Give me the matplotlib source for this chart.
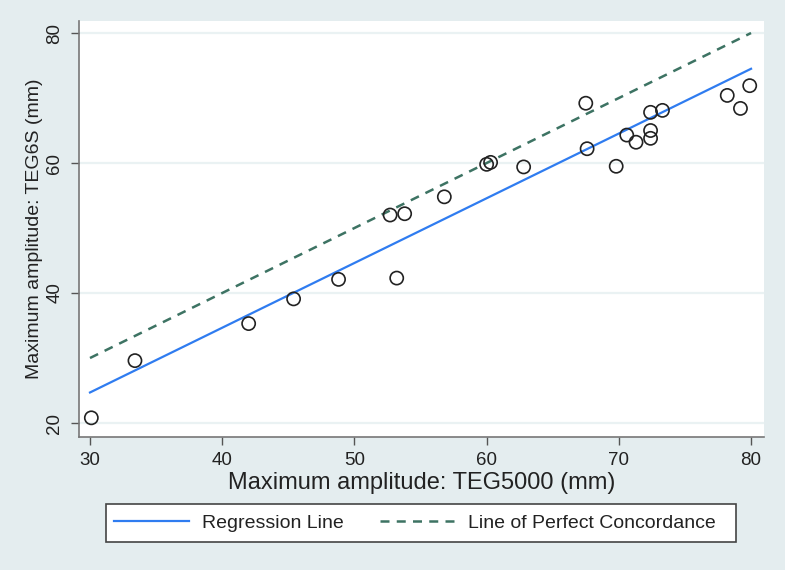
import matplotlib
matplotlib.use("Agg")
import matplotlib.pyplot as plt
from matplotlib.lines import Line2D
from matplotlib.patches import Rectangle
import numpy as np

# Data
teg5000 = [30.1, 33.4, 42.0, 45.4, 48.8, 53.2, 52.7, 53.8, 56.8, 60.0, 60.3,
           62.8, 67.5, 67.6, 69.8, 70.6, 71.3, 72.4, 72.4, 72.4, 73.3, 78.2,
           79.2, 79.9]
teg6s = [20.8, 29.6, 35.3, 39.1, 42.1, 42.3, 52.0, 52.2, 54.8, 59.8, 60.1,
         59.4, 69.2, 62.2, 59.5, 64.3, 63.2, 67.8, 65.0, 63.8, 68.1, 70.4,
         68.4, 71.9]
reg_x = [30, 80]
reg_y = [24.7, 74.5]
conc_x = [30, 80]
conc_y = [30, 80]
xticks = [30, 40, 50, 60, 70, 80]
yticks = [20, 40, 60, 80]

bg = '#e4edef'
grid_c = '#eaf2f3'
plt.rcParams['font.family'] = ['Liberation Sans', 'DejaVu Sans']

fig = plt.figure(figsize=(7.85, 5.70), dpi=100, facecolor=bg)
ax = fig.add_axes([78.5/785, 1 - 437/570, (764-78.5)/785, (437-21)/570])
ax.set_facecolor('white')

ax.set_xlim(29.13, 80.98)
ax.set_ylim(17.85, 81.85)

for y in yticks:
    ax.axhline(y, color=grid_c, lw=1.6, zorder=0)

dash = (3.6, 2.9)
ax.plot(reg_x, reg_y, color='#2f7cf0', lw=1.6, zorder=2)
ax.plot(conc_x, conc_y, color='#3d7363', lw=1.8, dashes=dash, zorder=2)
ax.scatter(teg5000, teg6s, s=90, facecolors='none', edgecolors='#222222',
           linewidths=1.2, zorder=3)

for s in ['top', 'right']:
    ax.spines[s].set_visible(False)
for s in ['left', 'bottom']:
    ax.spines[s].set_color('#777777')
    ax.spines[s].set_linewidth(1.2)

ax.set_xticks(xticks)
ax.set_yticks(yticks)
ax.tick_params(axis='both', colors='#555555', length=6, width=1.0,
               labelcolor='#222222', labelsize=13.5, pad=5)
for lab in ax.get_yticklabels():
    lab.set_rotation(90)
    lab.set_va('center')

ax.set_xlabel('Maximum amplitude: TEG5000 (mm)', fontsize=17, color='#222222', labelpad=2)
ax.set_ylabel('Maximum amplitude: TEG6S (mm)', fontsize=14, color='#222222', labelpad=2)

# legend frame
fig.patches.append(Rectangle((106/785, 1 - 542/570), 630/785, 38/570,
                             transform=fig.transFigure, facecolor='white',
                             edgecolor='#444444', linewidth=1.2, zorder=1))
handles = [Line2D([], [], color='#2f7cf0', lw=1.6),
           Line2D([], [], color='#3d7363', lw=1.8, dashes=dash)]
leg = fig.legend(handles, ['Regression Line', 'Line of Perfect Concordance'],
                 loc='center left', bbox_to_anchor=(114/785, 1 - 523/570), ncol=2,
                 frameon=False, fontsize=14, handlelength=3.86,
                 columnspacing=1.85, borderpad=0.0, borderaxespad=0.0,
                 handletextpad=0.67)
leg.set_zorder(5)
for t in leg.get_texts():
    t.set_color('#222222')

fig.savefig('out.png', dpi=100, facecolor=bg)
